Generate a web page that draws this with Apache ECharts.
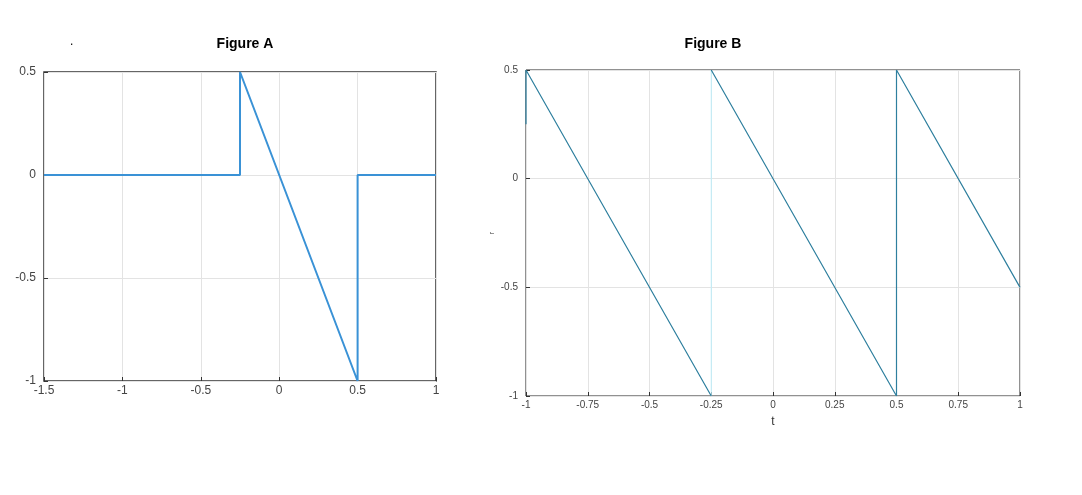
<!DOCTYPE html>
<html><head><meta charset="utf-8">
<script src="https://cdn.jsdelivr.net/npm/echarts@6/dist/echarts.min.js"></script>
<style>html,body{margin:0;padding:0;background:#fff}#c{width:1082px;height:495px}</style>
</head><body><div id="c"></div>
<script>
const seriesA = [[-1.5,0],[-0.25,0],[-0.25,0.5],[0.5,-1],[0.5,0],[1,0]];
const seriesB1 = [[-1,0.25],[-1,0.5],[-0.25,-1]];
const seriesBJump = [[-0.25,-1],[-0.25,0.5]];
const seriesB2 = [[-0.25,0.5],[0.5,-1],[0.5,0.5],[1,-0.5]];
const ticksAX = [-1.5,-1,-0.5,0,0.5,1];
const ticksBX = [-1,-0.75,-0.5,-0.25,0,0.25,0.5,0.75,1];
const chart = echarts.init(document.getElementById('c'));
const lab = {color:'#444',fontFamily:'Arial, Liberation Sans',fontSize:12};
function xa(i,min,max,iv,fs,lbl){return {type:'value',gridIndex:i,min,max,interval:iv,
 axisLine:{show:false,onZero:false},axisTick:{inside:true,length:4,lineStyle:{color:'#333'}},
 splitLine:{lineStyle:{color:'#e3e3e3'}},axisLabel:Object.assign({},lab,{fontSize:fs,margin:4,showMinLabel:true,showMaxLabel:true}),
 name:lbl,nameLocation:'middle',nameGap:20,nameTextStyle:{color:'#333',fontSize:12}};}
function ya(i,fs,lbl){return {type:'value',gridIndex:i,min:-1,max:0.5,interval:0.5,
 axisLine:{show:false,onZero:false},axisTick:{inside:true,length:4,lineStyle:{color:'#333'}},
 splitLine:{lineStyle:{color:'#e3e3e3'}},axisLabel:Object.assign({},lab,{fontSize:fs,margin:8}),
 name:lbl,nameLocation:'middle',nameGap:30,nameTextStyle:{color:'#333',fontSize:7}};}
chart.setOption({
 animation:false,
 title:[{text:'Figure A',left:240,top:32,textAlign:'center',textStyle:{fontSize:14,fontWeight:'bold',color:'#000',fontFamily:'Arial, Liberation Sans'}},
        {text:'Figure B',left:708,top:32,textAlign:'center',textStyle:{fontSize:14,fontWeight:'bold',color:'#000',fontFamily:'Arial, Liberation Sans'}}],
 graphic:[{type:'text',left:70,top:36,style:{text:'.',fontSize:12,fill:'#000'}}],
 grid:[{left:44,top:72,width:392,height:309,show:true,borderColor:'#333',borderWidth:1.5},
       {left:526,top:70,width:494,height:326,show:true,borderColor:'#222',borderWidth:1}],
 xAxis:[xa(0,-1.5,1,0.5,12,''),xa(1,-1,1,0.25,10,'t')],
 yAxis:[ya(0,12,''),ya(1,10,'r')],
 series:[
  {type:'line',xAxisIndex:0,yAxisIndex:0,data:seriesA,showSymbol:false,lineStyle:{color:'#3a92d6',width:2}},
  {type:'line',xAxisIndex:1,yAxisIndex:1,data:seriesBJump,showSymbol:false,lineStyle:{color:'#bdeefa',width:1}},
  {type:'line',xAxisIndex:1,yAxisIndex:1,data:seriesB1,showSymbol:false,lineStyle:{color:'#2e7f9e',width:1.2}},
  {type:'line',xAxisIndex:1,yAxisIndex:1,data:seriesB2,showSymbol:false,lineStyle:{color:'#2e7f9e',width:1.2}}
 ]
});
</script></body></html>
